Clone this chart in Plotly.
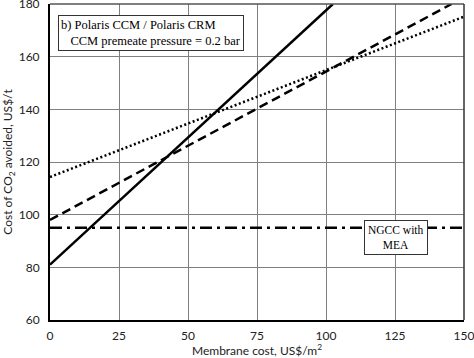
import plotly.graph_objects as go

# Data
solid_x = [0, 102.5]
solid_y = [81, 180]
dashed_x = [0, 145.5]
dashed_y = [98, 180]
dotted_x = [0, 150]
dotted_y = [114.3, 175.2]
mea_x = [0, 150]
mea_y = [95, 95]
x_ticks = [0, 25, 50, 75, 100, 125, 150]
y_ticks = [60, 80, 100, 120, 140, 160, 180]

fig = go.Figure()
fig.add_trace(go.Scatter(x=mea_x, y=mea_y, mode="lines",
                         line=dict(color="black", width=2.5, dash="12px,5px,3px,5px")))
fig.add_trace(go.Scatter(x=dotted_x, y=dotted_y, mode="lines",
                         line=dict(color="black", width=2.5, dash="2px,2.5px")))
fig.add_trace(go.Scatter(x=dashed_x, y=dashed_y, mode="lines",
                         line=dict(color="black", width=2.5, dash="9px,5px")))
fig.add_trace(go.Scatter(x=solid_x, y=solid_y, mode="lines",
                         line=dict(color="black", width=2.5)))

sans = "Lato, Open Sans, sans-serif"
serif = "Liberation Serif, serif"

fig.update_layout(
    width=474, height=358,
    margin=dict(l=50, r=10, t=4, b=38),
    paper_bgcolor="white", plot_bgcolor="white",
    showlegend=False,
    font=dict(family=sans, size=12, color="#222"),
    xaxis=dict(range=[0, 150], tickvals=x_ticks, showgrid=True, gridcolor="#7f7f7f",
               gridwidth=1, showline=True, linecolor="black", linewidth=2,
               zeroline=False, ticks="outside", ticklen=4, tickcolor="rgba(0,0,0,0)",
               automargin=False, ticklabeloverflow="allow",
               title=dict(text="Membrane cost, US$/m<sup>2</sup>",
                          font=dict(size=12), standoff=4)),
    yaxis=dict(range=[60, 180], tickvals=y_ticks, showgrid=True, gridcolor="#7f7f7f",
               gridwidth=1, showline=True, linecolor="black", linewidth=2,
               zeroline=False, ticks="outside", ticklen=6, tickcolor="rgba(0,0,0,0)",
               automargin=False, ticklabeloverflow="allow",
               title=dict(text="Cost of CO<sub>2</sub> avoided, US$/t",
                          font=dict(size=12), standoff=6)),
    shapes=[
        dict(type="line", xref="paper", yref="paper", x0=0, x1=1, y0=1, y1=1,
             line=dict(color="#555", width=1.5)),
        dict(type="line", xref="paper", yref="paper", x0=1, x1=1, y0=0, y1=1,
             line=dict(color="#333", width=1.5)),
    ],
    annotations=[
        dict(xref="paper", yref="paper", x=0.019, y=0.965, xanchor="left", yanchor="top",
             text="b) Polaris CCM / Polaris CRM<br>&nbsp;&nbsp;&nbsp;CCM premeate pressure = 0.2 bar",
             align="left", showarrow=False, bgcolor="white", bordercolor="#333",
             borderwidth=1, borderpad=2, font=dict(family=serif, size=12.5, color="black")),
        dict(x=125.4, y=91.5, xanchor="center", yanchor="middle",
             text="NGCC with<br>MEA", align="center", showarrow=False,
             bgcolor="white", bordercolor="#333", borderwidth=1, borderpad=3,
             font=dict(family=serif, size=11.5, color="black")),
    ],
)

fig.write_html("out.html", config={"displayModeBar": False},
               post_script="document.body.style.margin='0';document.body.style.padding='0';")
